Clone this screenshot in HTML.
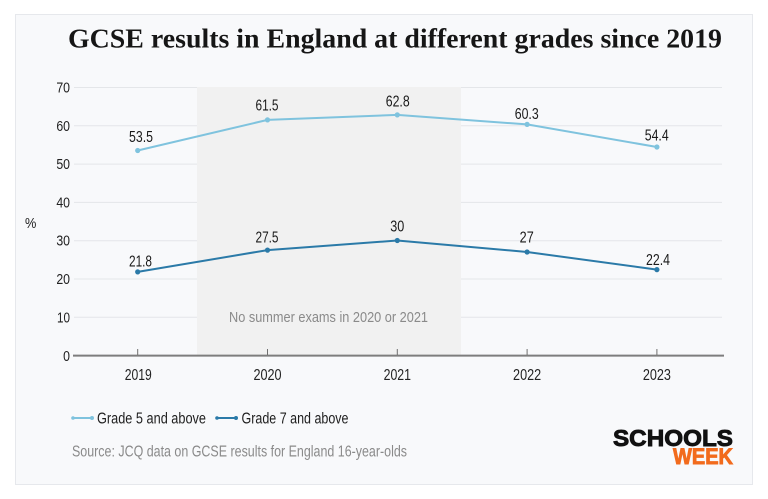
<!DOCTYPE html>
<html><head><meta charset="utf-8"><style>
html,body{margin:0;padding:0;background:#fff;}
svg{display:block;}
</style></head><body>
<svg width="768" height="499" viewBox="0 0 768 499" xmlns="http://www.w3.org/2000/svg">
<rect x="0" y="0" width="768" height="499" fill="#ffffff"/>
<rect x="15.5" y="14.5" width="737" height="470" fill="#f8f9fb" stroke="#e6e8ec" stroke-width="1"/>
<text x="68" y="47.5" font-family="Liberation Serif, serif" font-weight="bold" font-size="27" fill="#161616" textLength="654" lengthAdjust="spacingAndGlyphs">GCSE results in England at different grades since 2019</text>
<g stroke="#e4e6e9" stroke-width="1">
<line x1="74" y1="87.5" x2="722" y2="87.5"/>
<line x1="74" y1="125.8" x2="722" y2="125.8"/>
<line x1="74" y1="164.1" x2="722" y2="164.1"/>
<line x1="74" y1="202.4" x2="722" y2="202.4"/>
<line x1="74" y1="240.7" x2="722" y2="240.7"/>
<line x1="74" y1="279" x2="722" y2="279"/>
<line x1="74" y1="317.3" x2="722" y2="317.3"/>
</g>
<rect x="197" y="87" width="264" height="268" fill="#f1f1f1"/>
<text x="328.5" y="322" font-family="Liberation Sans, sans-serif" font-size="15" fill="#8a8a8a" text-anchor="middle" textLength="199" lengthAdjust="spacingAndGlyphs">No summer exams in 2020 or 2021</text>
<g font-family="Liberation Sans, sans-serif" font-size="15" fill="#222" text-anchor="end">
<g transform="translate(70,92.5) scale(0.82,1)"><text>70</text></g>
<g transform="translate(70,130.8) scale(0.82,1)"><text>60</text></g>
<g transform="translate(70,169.1) scale(0.82,1)"><text>50</text></g>
<g transform="translate(70,207.4) scale(0.82,1)"><text>40</text></g>
<g transform="translate(70,245.7) scale(0.82,1)"><text>30</text></g>
<g transform="translate(70,284) scale(0.82,1)"><text>20</text></g>
<g transform="translate(70,322.3) scale(0.78,1)"><text>10</text></g>
<g transform="translate(70,360.8) scale(0.82,1)"><text>0</text></g>
</g>
<g transform="translate(25,228) scale(0.85,1)"><text font-family="Liberation Sans, sans-serif" font-size="15" fill="#222">%</text></g>
<line x1="73" y1="355.6" x2="724" y2="355.6" stroke="#7d7d7d" stroke-width="2"/>
<g stroke="#6f6f6f" stroke-width="1">
<line x1="137.7" y1="349" x2="137.7" y2="355"/>
<line x1="267.5" y1="349" x2="267.5" y2="355"/>
<line x1="397.3" y1="349" x2="397.3" y2="355"/>
<line x1="527.1" y1="349" x2="527.1" y2="355"/>
<line x1="656.9" y1="349" x2="656.9" y2="355"/>
</g>
<g font-family="Liberation Sans, sans-serif" font-size="16" fill="#222" text-anchor="middle">
<g transform="translate(138.3,380) scale(0.76,1)"><text>2019</text></g>
<g transform="translate(267.5,380) scale(0.79,1)"><text>2020</text></g>
<g transform="translate(397.3,380) scale(0.77,1)"><text>2021</text></g>
<g transform="translate(527.1,380) scale(0.79,1)"><text>2022</text></g>
<g transform="translate(656.9,380) scale(0.79,1)"><text>2023</text></g>
</g>
<polyline points="137.7,150.5 267.5,119.9 397.3,114.9 527.1,124.4 656.9,147" fill="none" stroke="#7fc3de" stroke-width="2"/>
<g fill="#7fc3de">
<circle cx="137.7" cy="150.5" r="2.6"/><circle cx="267.5" cy="119.9" r="2.6"/><circle cx="397.3" cy="114.9" r="2.6"/><circle cx="527.1" cy="124.4" r="2.6"/><circle cx="656.9" cy="147" r="2.6"/>
</g>
<polyline points="137.7,271.9 267.5,250.1 397.3,240.5 527.1,252 656.9,269.6" fill="none" stroke="#2b7aa8" stroke-width="2"/>
<g fill="#2b7aa8">
<circle cx="137.7" cy="271.9" r="2.6"/><circle cx="267.5" cy="250.1" r="2.6"/><circle cx="397.3" cy="240.5" r="2.6"/><circle cx="527.1" cy="252" r="2.6"/><circle cx="656.9" cy="269.6" r="2.6"/>
</g>
<g font-family="Liberation Sans, sans-serif" font-size="16" fill="#1a1a1a" text-anchor="middle">
<g transform="translate(141,142) scale(0.77,1)"><text>53.5</text></g>
<g transform="translate(267,110.7) scale(0.74,1)"><text>61.5</text></g>
<g transform="translate(397.7,106.7) scale(0.77,1)"><text>62.8</text></g>
<g transform="translate(526.7,119) scale(0.77,1)"><text>60.3</text></g>
<g transform="translate(656.7,140.7) scale(0.77,1)"><text>54.4</text></g>
<g transform="translate(140.5,266.7) scale(0.74,1)"><text>21.8</text></g>
<g transform="translate(267,242.3) scale(0.74,1)"><text>27.5</text></g>
<g transform="translate(397.3,231.7) scale(0.79,1)"><text>30</text></g>
<g transform="translate(526.7,242.7) scale(0.79,1)"><text>27</text></g>
<g transform="translate(658,265) scale(0.77,1)"><text>22.4</text></g>
</g>
<line x1="72" y1="418" x2="93" y2="418" stroke="#7fc3de" stroke-width="2"/>
<circle cx="73" cy="418" r="1.8" fill="#7fc3de"/><circle cx="92" cy="418" r="2" fill="#7fc3de"/>
<text x="97" y="423.5" font-family="Liberation Sans, sans-serif" font-size="15.5" fill="#1e1e1e" textLength="109" lengthAdjust="spacingAndGlyphs">Grade 5 and above</text>
<line x1="216" y1="418" x2="237" y2="418" stroke="#2b7aa8" stroke-width="2"/>
<circle cx="217" cy="418" r="1.8" fill="#2b7aa8"/><circle cx="236" cy="418" r="2" fill="#2b7aa8"/>
<text x="241.5" y="423.5" font-family="Liberation Sans, sans-serif" font-size="15.5" fill="#1e1e1e" textLength="107" lengthAdjust="spacingAndGlyphs">Grade 7 and above</text>
<text x="72" y="456.5" font-family="Liberation Sans, sans-serif" font-size="15.5" fill="#8a8a8a" textLength="335" lengthAdjust="spacingAndGlyphs">Source: JCQ data on GCSE results for England 16-year-olds</text>
<text x="613" y="446" font-family="Liberation Sans, sans-serif" font-weight="bold" font-size="23.5" fill="#111" stroke="#111" stroke-width="0.9" textLength="120" lengthAdjust="spacingAndGlyphs">SCHOOLS</text>
<text x="673" y="464" font-family="Liberation Sans, sans-serif" font-weight="bold" font-size="22" fill="#f26b1d" stroke="#f26b1d" stroke-width="0.9" textLength="60" lengthAdjust="spacingAndGlyphs">WEEK</text>
</svg>
</body></html>
